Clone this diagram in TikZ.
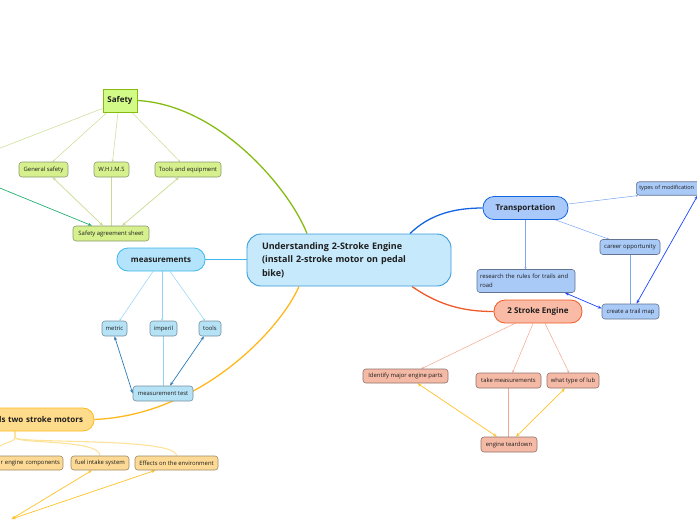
\documentclass[tikz,border=0pt]{standalone}
\usepackage{fontspec}
\setmainfont{Open Sans}
\usetikzlibrary{arrows.meta}
\pgfdeclarelayer{bg}
\pgfsetlayers{bg,main}
\definecolor{txt}{HTML}{1E1E1E}
\definecolor{cfill}{HTML}{C6E9FB}\definecolor{cdraw}{HTML}{3A9AD9}
\definecolor{sfillM}{HTML}{D2FA86}\definecolor{sdrawM}{HTML}{86BC12}
\definecolor{sfill}{HTML}{D5F08C}\definecolor{sdraw}{HTML}{8E9A70}\definecolor{sline}{HTML}{C8DB90}
\definecolor{mfillM}{HTML}{B3E4FB}\definecolor{mdrawM}{HTML}{3CB8EC}
\definecolor{mfill}{HTML}{B5E2F5}\definecolor{mdraw}{HTML}{7690A0}\definecolor{mline}{HTML}{8FD4F5}\definecolor{mrel}{HTML}{2A7AB8}
\definecolor{tfillM}{HTML}{A9C9FB}\definecolor{tdrawM}{HTML}{1565E0}
\definecolor{tfill}{HTML}{A9C9F7}\definecolor{tdraw}{HTML}{627490}\definecolor{tline}{HTML}{7AA7F0}\definecolor{trel}{HTML}{1A44FF}
\definecolor{efillM}{HTML}{F9BBA5}\definecolor{edrawM}{HTML}{F05A28}
\definecolor{efill}{HTML}{F5BAA6}\definecolor{edraw}{HTML}{8F716A}\definecolor{eline}{HTML}{F7A590}
\definecolor{ofillM}{HTML}{FFDC8C}\definecolor{odrawM}{HTML}{FFB81C}
\definecolor{ofill}{HTML}{FCD994}\definecolor{odraw}{HTML}{9C8B6A}\definecolor{oline}{HTML}{FDE29A}
\definecolor{yrel}{HTML}{FFC125}\definecolor{grel}{HTML}{22B070}
\tikzset{
  sub/.style={font=\fontsize{5.9}{7}\selectfont, text=txt, inner sep=0pt, rounded corners=3pt, line width=0.6pt, minimum height=15pt},
  subS/.style={sub, fill=sfill, draw=sdraw},
  subM/.style={sub, fill=mfill, draw=mdraw},
  subT/.style={sub, fill=tfill, draw=tdraw},
  subE/.style={sub, fill=efill, draw=edraw},
  subO/.style={sub, fill=ofill, draw=odraw},
  mainbox/.style={font=\bfseries\fontsize{8}{10}\selectfont, text=txt, inner sep=0pt, line width=0.8pt, minimum height=23pt, rounded corners=11pt},
  tipped/.style={-{Stealth[length=2.2pt,width=2.2pt]}, line width=0.5pt},
  rel/.style={{Stealth[length=4pt,width=3pt]}-{Stealth[length=4pt,width=3pt]}, line width=0.7pt},
  relend/.style={-{Stealth[length=4pt,width=3pt]}, line width=0.7pt},
}
\begin{document}
\begin{tikzpicture}[x=1pt,y=-1pt]
\useasboundingbox (0,0) rectangle (697,520);
% ---- nodes
\node[fill=cfill, draw=cdraw, line width=0.9pt, rounded corners=14pt, minimum height=52pt, text width=174pt, inner xsep=15pt, inner ysep=0pt, align=left, font=\bfseries\fontsize{9}{13.5}\selectfont, text=txt] (central) at (349,260) {Understanding 2-Stroke Engine\\(install 2-stroke motor on pedal\\bike)};

\node[fill=sfillM, draw=sdrawM, line width=0.9pt, minimum width=34pt, minimum height=23pt, inner sep=0pt, font=\bfseries\fontsize{8}{10}\selectfont, text=txt] (safety) at (120,100.5) {Safety};
\node[subS, minimum width=49pt] (gensafe) at (43.5,169.5) {General safety};
\node[subS, minimum width=35pt] (whims) at (111.5,169.5) {W.H.I.M.S};
\node[subS, minimum width=66pt] (toolseq) at (188,169.5) {Tools and equipment};
\node[subS, minimum width=76pt] (sas) at (111,233.5) {Safety agreement sheet};
\coordinate (offsafe) at (-10,152);
\coordinate (offgreen) at (-10,184);

\node[mainbox, fill=mfillM, draw=mdrawM, minimum width=88pt] (meas) at (161,259.5) {measurements};
\node[subM, minimum width=25pt] (metric) at (114.5,328.5) {metric};
\node[subM, minimum width=27pt] (imperil) at (163.5,328.5) {imperil};
\node[subM, minimum width=22pt] (tools) at (210,328.5) {tools};
\node[subM, minimum width=60pt] (mtest) at (163,393.5) {measurement test};

\node[mainbox, fill=tfillM, draw=tdrawM, minimum width=85pt] (trans) at (525.5,208) {Transportation};
\node[subT, anchor=west, minimum height=13.5pt, text width=68pt, inner xsep=3pt, align=left, font=\fontsize{5.5}{7}\selectfont] (types) at (636,188.5) {types of modification};
\node[subT, minimum width=60pt] (career) at (630,247) {career opportunity};
\node[subT, minimum height=23pt, text width=92pt, inner xsep=3pt, align=left, font=\fontsize{5.9}{9.5}\selectfont] (research) at (526,281) {research the rules for trails and\\road};
\node[subT, minimum width=57pt] (trailmap) at (630.5,311.5) {create a trail map};

\node[mainbox, fill=efillM, draw=edrawM, minimum width=88pt] (engine) at (538,311.5) {2 Stroke Engine};
\node[subE, minimum width=85pt, minimum height=14pt] (identify) at (405.5,376) {Identify major engine parts};
\node[subE, minimum width=65pt] (takemeas) at (508.5,380.5) {take measurements};
\node[subE, minimum width=52pt] (lub) at (573,380.5) {what type of lub};
\node[subE, minimum width=56pt] (teardown) at (509,444.5) {engine teardown};

\node[mainbox, fill=ofillM, draw=odrawM, text width=136pt, inner xsep=11pt, align=right] (orange) at (15,419.5) {ls two stroke motors};
\node[subO, minimum height=14pt, text width=130pt, inner xsep=3pt, align=right] (engcomp) at (-5,463) {r engine components};
\node[subO, minimum width=58pt, minimum height=14pt] (fuel) at (100,463) {fuel intake system};
\node[subO, minimum width=83pt, minimum height=14pt] (effects) at (176.5,463) {Effects on the environment};
\coordinate (offbl) at (11.5,519);

\begin{pgfonlayer}{bg}
% ---- main branches
\draw[sdrawM, line width=1.3pt] (safety.east) .. controls (220,105) and (290,190) .. ([xshift=-42pt]central.north);
\draw[mdrawM, line width=1.6pt] (meas.east) -- (central.west |- meas.east);
\draw[tdrawM, line width=1.3pt] ([xshift=61pt]central.north) .. controls (430,214) and (455,208) .. (trans.west);
\draw[edrawM, line width=1.3pt] ([xshift=63pt]central.south) .. controls (440,306) and (465,311.5) .. (engine.west);
\draw[odrawM, line width=1.3pt] ([xshift=-50pt]central.south) .. controls (280,330) and (200,415) .. (orange.east);

% ---- safety
\draw[sline, tipped] ([xshift=-13pt]safety.south) -- ([xshift=9pt]gensafe.north);
\draw[sline, tipped] ([xshift=-2pt]safety.south) -- ([xshift=1pt]whims.north);
\draw[sline, tipped] ([xshift=12pt]safety.south) -- ([xshift=-8pt]toolseq.north);
\draw[sline, line width=0.5pt] ([yshift=4pt]safety.south west) -- (offsafe);
\draw[sline, rel] ([xshift=9pt]gensafe.south) -- ([xshift=-8pt]sas.north);
\draw[sline, line width=0.7pt] (whims.south) -- (whims.south |- sas.north);
\draw[sline, rel] ([xshift=-9pt]toolseq.south) -- ([xshift=11pt]sas.north);
\draw[grel, relend] (offgreen) -- ([xshift=-19pt]sas.north);

% ---- measurements
\draw[mline, tipped] ([xshift=-8pt]meas.south) -- ([xshift=5pt]metric.north);
\draw[mline, tipped] ([xshift=1pt]meas.south) -- ([xshift=-1.5pt]imperil.north);
\draw[mline, tipped] ([xshift=9pt]meas.south) -- ([xshift=-5pt]tools.north);
\draw[mline, line width=0.7pt] ([xshift=-0.5pt]imperil.south) -- ([xshift=-0.5pt]imperil.south |- mtest.north);
\draw[mrel, rel] (metric.south) -- (mtest.west);
\draw[mrel, rel] ([xshift=-6pt]tools.south) -- ([xshift=7pt]mtest.north);

% ---- transportation
\draw[tline, tipped] ([yshift=4pt]trans.east) -- ([xshift=2pt]types.south west);
\draw[tline, tipped] ([xshift=30pt]trans.south) -- ([xshift=-21pt]career.north);
\draw[tline, tipped] (trans.south) -- (trans.south |- research.north);
\draw[tline, line width=0.7pt] (career.south) -- (career.south |- trailmap.north);
\draw[trel, rel] ([xshift=39pt]research.south) -- ([yshift=3pt]trailmap.west);
\draw[trel, rel] ([xshift=-13pt]types.south east) -- ([xshift=6pt]trailmap.north);

% ---- engine
\draw[eline, tipped] ([xshift=-23pt]engine.south) -- ([xshift=16pt]identify.north);
\draw[eline, tipped] ([xshift=-5pt]engine.south) -- ([xshift=4pt]takemeas.north);
\draw[eline, tipped] ([xshift=7pt]engine.south) -- ([xshift=-4pt]lub.north);
\draw[eline, line width=0.7pt] (takemeas.south) -- (takemeas.south |- teardown.north);
\draw[yrel, rel] ([xshift=12pt]identify.south) -- ([xshift=-12pt]teardown.north);
\draw[yrel, rel] ([xshift=-8pt]lub.south) -- ([xshift=7pt]teardown.north);

% ---- orange
\draw[oline, line width=1.1pt] (orange.south) -- ++(0,6) .. controls (15,444) and (-5,441) .. (engcomp.north);
\draw[oline, line width=1.1pt] (orange.south) -- ++(0,6) .. controls (15,444) and (100,439) .. (fuel.north);
\draw[oline, line width=1.1pt] (orange.south) -- ++(0,6) .. controls (15,444) and (176.5,437) .. (effects.north);
\draw[yrel, rel] ([xshift=-8pt]fuel.south) -- (offbl);
\draw[yrel, rel] ([xshift=-21pt]effects.south) -- (offbl);
\end{pgfonlayer}
\end{tikzpicture}
\end{document}
